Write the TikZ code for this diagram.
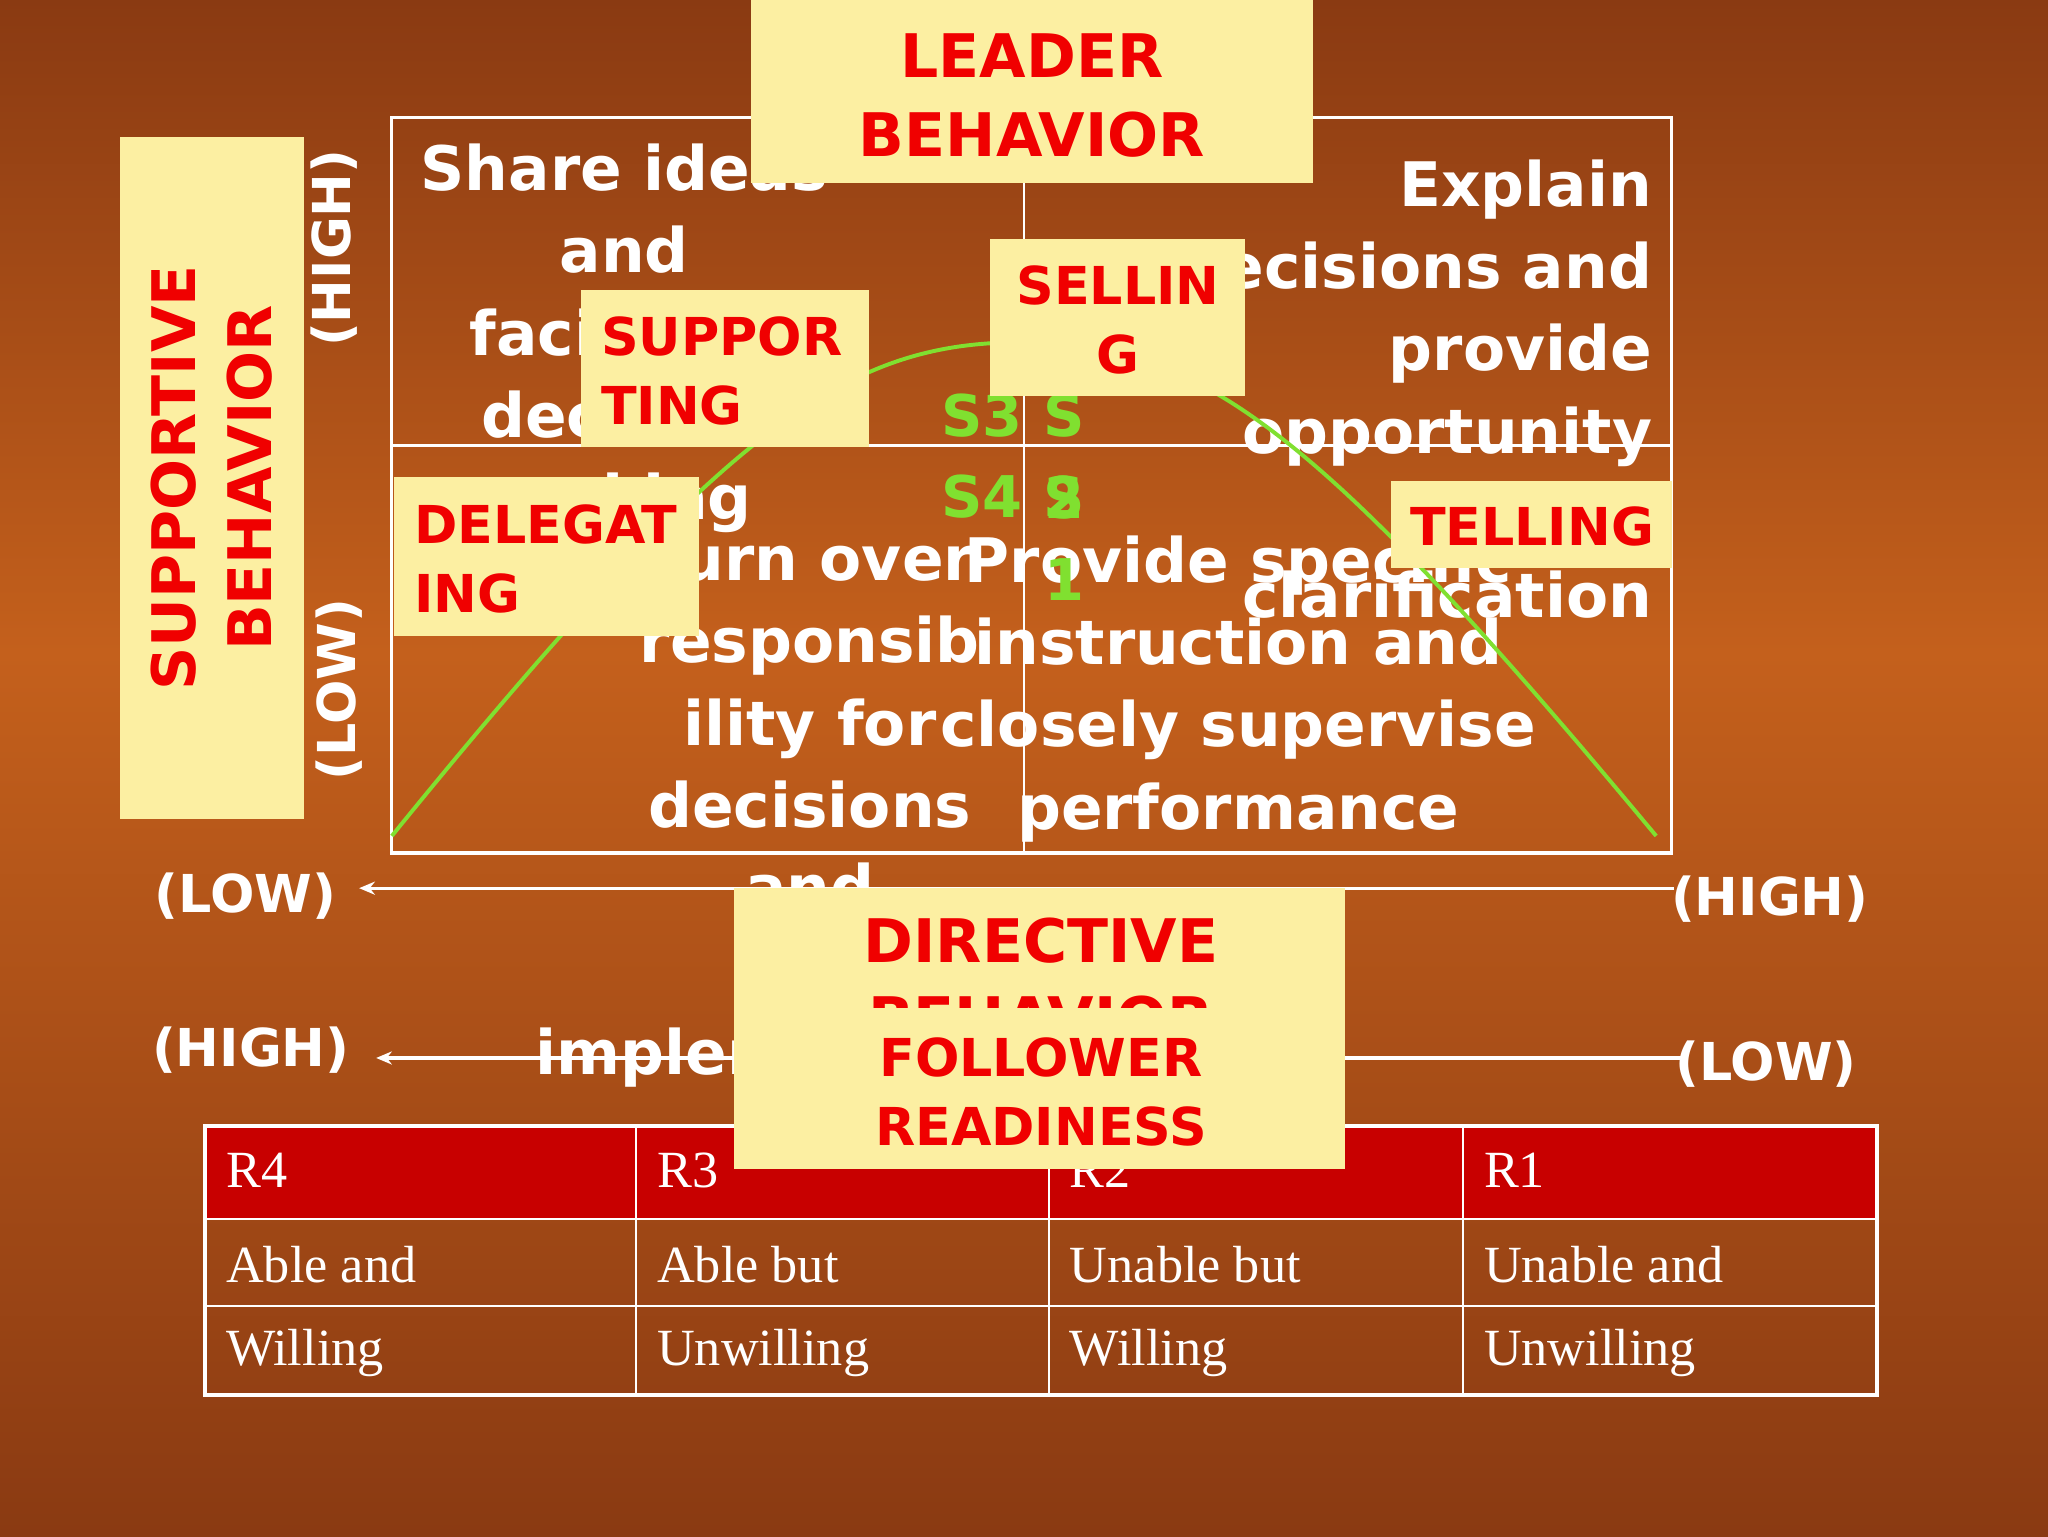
\documentclass[tikz,border=0pt]{standalone}
\usepackage{fontspec}
\setmainfont{DejaVu Sans}
\newfontfamily\tabfont{Liberation Serif}
\usetikzlibrary{arrows.meta}
\definecolor{ybox}{HTML}{FCEFA2}
\definecolor{rtxt}{HTML}{F00000}
\definecolor{gcurve}{HTML}{80E030}
\definecolor{bgmid}{HTML}{C4601C}
\definecolor{bgdark}{HTML}{8A3A12}
\definecolor{hdr}{HTML}{C80000}
\tikzset{
 ybx/.style={fill=ybox,draw=none},
 wt/.style={text=white,font=\bfseries\fontsize{47}{63}\selectfont,inner sep=0pt},
 rt/.style={text=rtxt,font=\bfseries\fontsize{40}{53}\selectfont,inner sep=0pt},
 gt/.style={text=gcurve,font=\bfseries\fontsize{44}{63}\selectfont,inner sep=0pt},
 tt/.style={text=white,font=\tabfont\fontsize{40}{48}\selectfont,inner sep=0pt,anchor=west},
 ax/.style={white,line width=2.5pt,-{Stealth[length=12pt,width=10pt]}},
 axtext/.style={text=white,font=\bfseries\fontsize{40}{48}\selectfont,inner sep=0pt}
}
\begin{document}
\begin{tikzpicture}[x=1pt,y=-1pt]
\useasboundingbox (0,0) rectangle (1568,1176);
\shade[top color=bgdark,bottom color=bgmid] (0,0) rectangle (1568,500);
\shade[top color=bgmid,bottom color=bgdark] (0,500) rectangle (1568,1176);
% quadrant grid
\draw[white,line width=2.5pt] (300,90) rectangle (1280,653);
\draw[white,line width=2pt] (784,90) -- (784,653) (300,341) -- (1280,341);
% quadrant texts
\node[wt,align=center,anchor=north] (q3) at (478,110) {Share ideas\\and\\facilitate\\decision\\making};
\node[wt,align=right,anchor=north east] (q2) at (1265,122) {Explain\\decisions and\\provide\\opportunity\\for\\clarification};
\node[wt,align=center,anchor=north] (q4) at (620,410) {Turn over\\responsib\\ility for\\decisions\\and\\~\\implementation};
\node[wt,align=center,anchor=north] (q1) at (948,410) {Provide specific\\instruction and\\closely supervise\\performance};
% curve
\draw[gcurve,line width=3pt] (300,640) .. controls (560,320) and (650,262) .. (784,262) .. controls (920,262) and (1010,330) .. (1268,640);
% S labels
\node[gt] (s3) at (752,318) {S3};
\node[gt] (s4) at (752,380) {S4};
\node[gt,align=center] (s2) at (815,349) {S\\2};
\node[gt,align=center] (s1) at (815,412) {S\\1};
% style boxes
\fill[ybx] (445,222) rectangle (665,342);
\node[rt,align=left,anchor=west] (sup) at (460,284) {SUPPOR\\TING};
\fill[ybx] (758,183) rectangle (953,303);
\node[rt,align=center] (sel) at (856,245) {SELLIN\\G};
\fill[ybx] (302,365) rectangle (535,487);
\node[rt,align=left,anchor=west] (del) at (317,428) {DELEGAT\\ING};
\fill[ybx] (1065,368) rectangle (1280,435);
\node[rt] (tel) at (1173,403) {TELLING};
% leader behavior
\fill[ybx] (575,0) rectangle (1005,140);
\node[rt,font=\bfseries\fontsize{46}{60}\selectfont,align=center] (lb) at (790,73) {LEADER\\BEHAVIOR};
% supportive
\fill[ybx] (92,105) rectangle (233,627);
\node[rt,font=\bfseries\fontsize{46}{58}\selectfont,align=center,rotate=90] (sb) at (162,366) {SUPPORTIVE\\BEHAVIOR};
\node[axtext,rotate=90] (sh) at (256,190) {(HIGH)};
\node[axtext,rotate=90] (sl) at (260,528) {(LOW)};
% directive axis
\coordinate (a1r) at (1282,680);
\coordinate (a1l) at (275,680);
\draw[ax] (a1r) -- (a1l);
\node[axtext] (dl) at (188,686) {(LOW)};
\node[axtext] (dh) at (1355,688) {(HIGH)};
% readiness axis
\coordinate (a2r) at (1290,810);
\coordinate (a2l) at (288,810);
\draw[ax] (a2r) -- (a2l);
\node[axtext] (rh) at (192,804) {(HIGH)};
\node[axtext] (rl) at (1352,815) {(LOW)};
% table
\fill[hdr] (157,862) rectangle (1437,933);
\draw[white,line width=2.5pt] (157,862) rectangle (1437,1068);
\draw[white,line width=1.5pt] (157,933) -- (1437,933) (157,1000) -- (1437,1000)
  (487,862) -- (487,1068) (803,862) -- (803,1068) (1120,862) -- (1120,1068);
\node[tt] (r4) at (173,896) {R4};
\node[tt] (r3) at (503,896) {R3};
\node[tt] (r2) at (819,896) {R2};
\node[tt] (r1) at (1136,896) {R1};
\node[tt] (c1a) at (173,968) {Able and};
\node[tt] (c2a) at (503,968) {Able but};
\node[tt] (c3a) at (819,968) {Unable but};
\node[tt] (c4a) at (1136,968) {Unable and};
\node[tt] (c1b) at (173,1036) {Willing};
\node[tt] (c2b) at (503,1036) {Unwilling};
\node[tt] (c3b) at (819,1036) {Willing};
\node[tt] (c4b) at (1136,1036) {Unwilling};
% directive / follower boxes
\fill[ybx] (562,680) rectangle (1030,800);
\node[rt,font=\bfseries\fontsize{46}{60}\selectfont,align=center] (db) at (797,750) {DIRECTIVE\\BEHAVIOR};
\fill[ybx] (562,772) rectangle (1030,895);
\node[rt,align=center] (fr) at (797,836) {FOLLOWER\\READINESS};
\end{tikzpicture}
\end{document}
